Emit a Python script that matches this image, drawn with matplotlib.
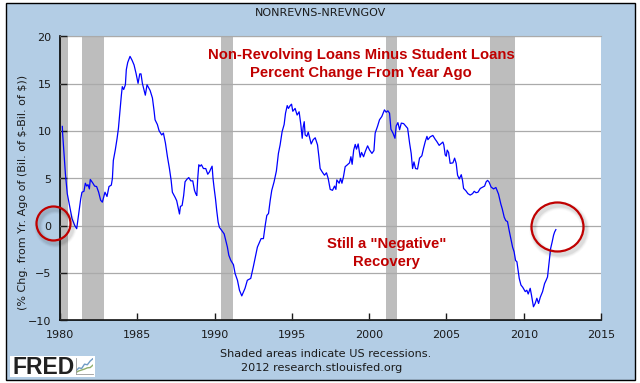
import matplotlib
matplotlib.use('Agg')
import matplotlib.pyplot as plt
from matplotlib.patches import Ellipse, Rectangle

# values
years = [1980.15, 1980.17, 1980.26, 1980.35, 1980.47, 1980.63, 1980.78, 1980.95, 1981.08, 1981.21,
         1981.34, 1981.42, 1981.55, 1981.64, 1981.73, 1981.81, 1981.9, 1981.96, 1982.11, 1982.24,
         1982.37, 1982.5, 1982.63, 1982.74, 1982.85, 1982.91, 1983.04, 1983.17, 1983.32, 1983.39,
         1983.45, 1983.58, 1983.69, 1983.78, 1983.88, 1983.97, 1984.03, 1984.12, 1984.23, 1984.29,
         1984.38, 1984.53, 1984.66, 1984.79, 1984.92, 1985.05, 1985.16, 1985.24, 1985.33, 1985.44,
         1985.52, 1985.63, 1985.83, 1985.98,
         1986.09, 1986.15, 1986.3, 1986.41, 1986.58, 1986.69, 1986.82, 1986.95, 1987.08, 1987.19,
         1987.27, 1987.45, 1987.55, 1987.66, 1987.73, 1987.79, 1987.9, 1988.0, 1988.09, 1988.2,
         1988.33, 1988.46, 1988.59, 1988.7, 1988.78, 1988.85, 1988.91, 1988.98, 1989.06, 1989.15,
         1989.28, 1989.43, 1989.56, 1989.67, 1989.75, 1989.84, 1989.9, 1989.97, 1990.06, 1990.14,
         1990.23, 1990.31, 1990.49, 1990.62, 1990.7, 1990.83, 1990.92, 1991.05, 1991.22, 1991.33,
         1991.48, 1991.61, 1991.76, 1991.97, 1992.12, 1992.34, 1992.51, 1992.77, 1993.01, 1993.16,
         1993.29, 1993.38, 1993.49, 1993.6, 1993.7, 1993.85, 1994.0, 1994.13, 1994.24, 1994.37,
         1994.5, 1994.59, 1994.7, 1994.78, 1994.89, 1994.98, 1995.06, 1995.21, 1995.34, 1995.47,
         1995.58, 1995.67, 1995.73, 1995.8, 1995.86, 1995.97, 1996.06, 1996.16, 1996.25, 1996.38,
         1996.51, 1996.66, 1996.75, 1996.83, 1996.98, 1997.11, 1997.24, 1997.35, 1997.48, 1997.63,
         1997.76, 1997.85, 1997.91, 1998.06, 1998.15, 1998.24, 1998.34, 1998.45, 1998.56, 1998.73,
         1998.82, 1998.9, 1999.0, 1999.1, 1999.18, 1999.29, 1999.42, 1999.51, 1999.64, 1999.75,
         1999.9, 2000.03, 2000.18, 2000.31, 2000.39, 2000.54, 2000.67, 2000.82, 2000.99, 2001.1,
         2001.21, 2001.32, 2001.41, 2001.54, 2001.67, 2001.75, 2001.86, 2001.97, 2002.08, 2002.23,
         2002.49, 2002.62, 2002.72, 2002.81, 2002.9, 2003.0, 2003.13, 2003.26, 2003.41, 2003.52,
         2003.63, 2003.74, 2003.8, 2003.95, 2004.12, 2004.27, 2004.38, 2004.53, 2004.77, 2004.83,
         2004.92, 2004.99, 2005.05, 2005.14, 2005.24, 2005.42, 2005.53, 2005.63, 2005.72, 2005.83,
         2005.96, 2006.04, 2006.11, 2006.26, 2006.39, 2006.54, 2006.69, 2006.8, 2006.91, 2007.04,
         2007.19, 2007.36, 2007.47, 2007.57, 2007.66, 2007.75, 2007.89, 2008.05, 2008.2, 2008.37,
         2008.52, 2008.61, 2008.74, 2008.84, 2008.95, 2009.06, 2009.17, 2009.28, 2009.38, 2009.47,
         2009.56, 2009.64, 2009.71, 2009.82, 2009.94, 2010.1, 2010.2, 2010.29, 2010.42, 2010.5,
         2010.63, 2010.74, 2010.85, 2010.96, 2011.07, 2011.22, 2011.35, 2011.45, 2011.54, 2011.6,
         2011.67, 2011.74, 2011.84, 2011.93, 2012.0, 2012.08]
values = [10.5, 9.75, 7.6, 5.5, 3.4, 2.0, 0.75, 0.05, -0.3, 1.3,
          2.85, 3.55, 3.65, 4.5, 4.2, 4.35, 3.9, 4.9, 4.55, 4.2,
          4.15, 3.55, 2.7, 2.5, 3.2, 3.55, 3.1, 4.15, 4.3, 5.0,
          6.9, 8.05, 9.2, 10.3, 12.2, 13.8, 14.7, 14.4, 14.9, 16.5,
          17.25, 17.9, 17.5, 17.0, 16.1, 15.05, 16.05, 16.05, 15.05, 14.35,
          13.8, 14.9, 14.3, 13.5,
          12.1, 11.2, 10.7, 10.05, 9.6, 9.8, 8.75, 7.3, 6.05, 4.8,
          3.55, 3.0, 2.65, 1.8, 1.25, 2.05, 2.15, 3.2, 4.65, 4.9,
          5.1, 4.75, 4.75, 3.75, 3.4, 3.2, 5.0, 6.45, 6.3, 6.45,
          6.05, 6.05, 5.45, 5.7, 6.0, 6.3, 5.0, 4.0, 2.85, 1.6,
          0.4, -0.15, -0.55, -0.85, -1.4, -2.25, -3.1, -3.65, -4.1, -5.05,
          -5.75, -6.8, -7.4, -6.6, -5.75, -5.55, -4.3, -2.25, -1.35, -1.35,
          0.2, 1.1, 1.3, 2.7, 3.75, 4.65, 5.8, 7.65, 8.55, 9.95,
          10.7, 11.9, 12.7, 12.4, 12.7, 12.85, 12.1, 12.4, 11.7, 12.05,
          10.7, 9.25, 10.4, 11.0, 9.6, 9.45, 9.9, 9.25, 8.65, 9.1,
          9.3, 8.55, 7.3, 6.05, 5.65, 5.35, 5.6, 5.0, 3.85, 3.75,
          4.2, 3.85, 4.85, 4.5, 5.0, 4.5, 5.2, 6.25, 6.4, 6.65,
          7.3, 6.5, 8.0, 8.6, 8.1, 8.65, 7.25, 7.75, 7.3, 7.85,
          8.45, 8.0, 7.65, 7.95, 9.8, 10.5, 11.2, 11.55, 12.25, 12.0,
          12.15, 11.9, 10.2, 9.8, 9.25, 10.55, 10.9, 10.15, 10.85, 10.8,
          10.3, 8.7, 7.65, 6.05, 6.75, 6.05, 6.0, 7.15, 7.4, 8.2,
          8.9, 9.45, 9.1, 9.4, 9.55, 9.15, 8.9, 8.5, 8.85, 8.55,
          7.5, 7.35, 8.0, 7.75, 6.6, 6.65, 7.15, 6.6, 5.35, 4.95,
          5.4, 4.8, 3.95, 3.7, 3.4, 3.25, 3.4, 3.65, 3.5, 3.55,
          3.95, 4.1, 4.2, 4.65, 4.8, 4.65, 4.1, 3.9, 4.05, 3.35,
          2.3, 1.8, 0.9, 0.55, 0.45, -0.5, -1.35, -2.25, -2.75, -3.65,
          -3.8, -4.7, -5.55, -6.25, -6.5, -6.95, -6.8, -7.2, -6.6, -7.3,
          -8.55, -8.2, -7.65, -8.2, -7.55, -6.95, -6.1, -5.75, -5.4, -4.5,
          -3.45, -2.4, -1.7, -1.0, -0.65, -0.4]

rec_start = [1980.0, 1981.42, 1990.42, 2001.1, 2007.83]
rec_end = [1980.52, 1982.85, 1991.2, 2001.81, 2009.45]

xticks = [1980, 1985, 1990, 1995, 2000, 2005, 2010, 2015]
yticks = [-10, -5, 0, 5, 10, 15, 20]

logo_x = [0, 1, 2, 3, 4, 5, 6]
logo_blue = [1.0, 2.0, 1.8, 3.2, 3.0, 4.2, 5.0]
logo_green = [0.5, 1.0, 1.3, 1.6, 2.0, 2.1, 2.9]

W, H = 640, 383
BG = '#b3cde5'
RED = '#c00000'
TXT = '#1a1a1a'

fig = plt.figure(figsize=(W/100, 383.01/100), dpi=100, facecolor='white')

# panel behind everything, in pixel coords
back = fig.add_axes([0, 0, 1, 1], zorder=0)
back.set_xlim(0, W)
back.set_ylim(H, 0)
back.axis('off')
back.add_patch(Rectangle((5.5, 3.5), 629, 377, facecolor=BG, edgecolor='black', linewidth=1.0))

L, R, T, B = 60, 601, 36.5, 320.5
ax = fig.add_axes([L/W, 1-B/H, (R-L)/W, (B-T)/H], zorder=1)
ax.set_facecolor('white')
for s, e in zip(rec_start, rec_end):
    ax.axvspan(s, e, color='#bdbdbd', linewidth=0, zorder=1)
ax.plot(years, values, color='#0000ff', linewidth=0.9, zorder=3)
ax.set_xlim(1980, 2015)
ax.set_ylim(-10, 20)
ax.set_xticks(xticks)
ax.set_yticks(yticks)
ax.grid(True, axis='y', color='#aaaaaa', linewidth=0.9, zorder=2)
ax.set_axisbelow(False)
ax.tick_params(direction='in', length=5, width=1, labelsize=8, colors=TXT)
ax.tick_params(axis='x', pad=7)
ax.tick_params(axis='y', pad=6)
ax.spines['top'].set_color('#aaaaaa')
ax.spines['right'].set_visible(False)
ax.spines['left'].set_linewidth(1.2)
ax.spines['bottom'].set_linewidth(1.2)

# overlay for text, circles and logo
top = fig.add_axes([0, 0, 1, 1], zorder=2)
top.set_xlim(0, W)
top.set_ylim(H, 0)
top.axis('off')
top.patch.set_alpha(0)

top.text(320.5, 13, 'NONREVNS-NREVNGOV', ha='center', va='center', fontsize=8, color=TXT)
top.text(23, 192, r'(% Chg. from Yr. Ago of (Bil. of \$-Bil. of \$))', rotation=90,
         ha='center', va='center', fontsize=8, color=TXT)
top.text(326, 354, 'Shaded areas indicate US recessions.', ha='center', va='center', fontsize=8.1, color=TXT)
top.text(322, 368, '2012 research.stlouisfed.org', ha='center', va='center', fontsize=8.1, color=TXT)

red_kw = dict(ha='center', va='center', fontsize=10.7, color=RED, fontweight='bold', family='Liberation Sans')
top.text(361, 55, 'Non-Revolving Loans Minus Student Loans', **red_kw)
top.text(361, 73, 'Percent Change From Year Ago', **red_kw)
top.text(387, 244, 'Still a "Negative"', **red_kw)
top.text(386, 262, 'Recovery', **red_kw)

for cx, cy, rx, ry in [(53.5, 223.5, 17, 17), (557.5, 227, 26, 24.5)]:
    for grow, alpha in [(4, 0.02), (3, 0.03), (2, 0.04), (1, 0.05)]:
        top.add_patch(Ellipse((cx+2, cy+3), 2*rx, 2*ry, fill=False, edgecolor='black',
                              linewidth=1.5+grow*1.2, alpha=alpha))
    top.add_patch(Ellipse((cx, cy), 2*rx, 2*ry, fill=False, edgecolor=RED, linewidth=1.6))

# FRED logo
top.add_patch(Rectangle((10, 356), 85, 21, facecolor='white', edgecolor='none'))
top.text(12, 367, 'FRED', ha='left', va='center', fontsize=16.5, fontweight='bold',
         color='#222222', family='Liberation Sans')
logo = fig.add_axes([76/W, 1-374/H, 17/W, 16/H], zorder=3)
logo.plot(logo_x, logo_blue, color='#6f9bc4', linewidth=1.0)
logo.plot(logo_x, logo_green, color='#8fae6b', linewidth=1.0)
logo.set_xlim(0, 6)
logo.set_ylim(0, 5.2)
logo.set_xticks([])
logo.set_yticks([])
for s in ['top', 'right']:
    logo.spines[s].set_visible(False)
for s in ['left', 'bottom']:
    logo.spines[s].set_color('#999999')
    logo.spines[s].set_linewidth(0.6)

fig.savefig('out.png', dpi=100, facecolor='white')
